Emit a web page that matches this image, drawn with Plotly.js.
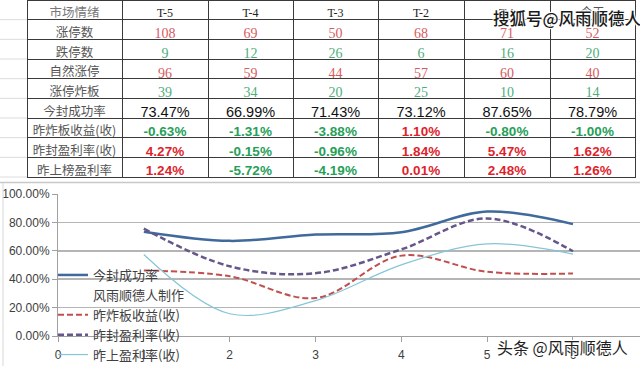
<!DOCTYPE html>
<html><head><meta charset="utf-8">
<script src="https://cdn.plot.ly/plotly-3.0.1.min.js"></script>
<style>html,body{margin:0;padding:0;background:#fff}#chart{width:640px;height:366px}</style>
</head><body><div id="chart"></div>
<script>
// ---- table data ----
const headerCols = ['T-5','T-4','T-3','T-2','T-1','今天'];
const rowLabels = ['涨停数','跌停数','自然涨停','涨停炸板','今封成功率','昨炸板收益(收)','昨封盈利率(收)','昨上榜盈利率'];
const limitUp   = [108, 69, 50, 68, 71, 52];
const limitDown = [9, 12, 26, 6, 16, 20];
const naturalUp = [96, 59, 44, 57, 60, 40];
const brokenCnt = [39, 34, 20, 25, 10, 14];
const sealRate  = [73.47, 66.99, 71.43, 73.12, 87.65, 78.79];
const brokenRet = [-0.63, -1.31, -3.88, 1.10, -0.80, -1.00];
const sealProfit= [4.27, -0.15, -0.96, 1.84, 5.47, 1.62];
const listProfit= [1.24, -5.72, -4.19, 0.01, 2.48, 1.26];

// ---- chart data (as plotted, in %) ----
const xCats = [1, 2, 3, 4, 5, 6];
const chartSeal      = [73.47, 66.99, 71.43, 73.12, 87.65, 78.79];
const chartBrokenRet = [46.2, 42.1, 26.7, 56.6, 45.2, 44.0];
const chartSealProf  = [75.6, 49.1, 44.2, 61.0, 82.8, 59.7];
const chartListProf  = [57.4, 15.7, 24.9, 50.1, 64.9, 57.6];
const seriesNames = ['今封成功率','风雨顺德人制作','昨炸板收益(收)','昨封盈利率(收)','昨上盈利率(收)'];
const xTicks = [0,1,2,3,4,5,6];
const yTicks = [0,0.2,0.4,0.6,0.8,1.0];

const W = 640, H = 366;
const RED_L = '#d65b5f', GRN_L = '#4fae7c', RED_B = '#e01f2d', GRN_B = '#26a058';
const CJK = 'Noto Sans CJK SC', SANS = 'Liberation Sans', SERIF = 'Liberation Serif';

// build table cells
const intRows = [limitUp, limitDown, naturalUp, brokenCnt];
const intColors = [RED_L, GRN_L, RED_L, GRN_L];
const pctRows = [brokenRet, sealProfit, listProfit];
const colValues = [rowLabels];
const colColors = [rowLabels.map(() => '#555555')];
const colFam = [rowLabels.map(() => CJK)];
const colSize = [rowLabels.map(() => 12.5)];
const colWeight = [rowLabels.map(() => 'normal')];
for (let c = 0; c < headerCols.length; c++) {
  const v = [], col = [], fam = [], sz = [], wt = [];
  intRows.forEach((r, i) => { v.push(String(r[c])); col.push(intColors[i]); fam.push(SERIF); sz.push(14); wt.push('normal'); });
  v.push(sealRate[c].toFixed(2) + '%'); col.push('#111111'); fam.push(SANS); sz.push(14.5); wt.push('normal');
  pctRows.forEach(r => { const x = r[c]; v.push(x.toFixed(2) + '%'); col.push(x >= 0 ? RED_B : GRN_B); fam.push(SANS); sz.push(13.5); wt.push('bold'); });
  colValues.push(v); colColors.push(col); colFam.push(fam); colSize.push(sz); colWeight.push(wt);
}
const rowH = 177 / 9;

const tableTrace = {
  type: 'table',
  domain: {x: [27 / W, 635 / W], y: [1 - 178 / H, 1]},
  columnwidth: [95, 86, 85, 85, 86, 86, 85],
  header: {
    values: ['市场情绪'].concat(headerCols),
    height: rowH,
    align: 'center',
    line: {color: '#3a3a3a', width: 1},
    fill: {color: '#ffffff'},
    font: {family: [CJK, SERIF, SERIF, SERIF, SERIF, SERIF, CJK], size: [12.5, 12, 12, 12, 12, 12, 12], color: ['#777777', '#222', '#222', '#222', '#222', '#222', '#555']}
  },
  cells: {
    values: colValues,
    height: rowH,
    align: 'center',
    line: {color: '#3a3a3a', width: 1},
    fill: {color: '#ffffff'},
    font: {family: colFam, size: colSize, color: colColors, weight: colWeight}
  }
};

const toFrac = a => a.map(v => v / 100);
const traces = [
  tableTrace,
  {type: 'scatter', mode: 'lines', name: seriesNames[0], x: xCats, y: toFrac(chartSeal),
   line: {color: '#3f6a9b', width: 2.5, shape: 'spline', smoothing: 1}},
  {type: 'scatter', mode: 'lines', name: seriesNames[1], x: [null], y: [null],
   line: {color: 'rgba(0,0,0,0)', width: 0}},
  {type: 'scatter', mode: 'lines', name: seriesNames[2], x: xCats, y: toFrac(chartBrokenRet),
   line: {color: '#c0504d', width: 2, dash: '6px,3px', shape: 'spline', smoothing: 1}},
  {type: 'scatter', mode: 'lines', name: seriesNames[3], x: xCats, y: toFrac(chartSealProf),
   line: {color: '#65578a', width: 2.5, dash: '6px,3px', shape: 'spline', smoothing: 1}},
  {type: 'scatter', mode: 'lines', name: seriesNames[4], x: xCats, y: toFrac(chartListProf),
   line: {color: '#86c5d8', width: 1.2, shape: 'spline', smoothing: 1}}
];

// faint excel sheet grid at left of table + chart border
const shapes = [];
for (let i = 1; i <= 9; i++) {
  const yy = 1 - (i * rowH) / H;
  shapes.push({type: 'line', xref: 'paper', yref: 'paper', x0: 0, x1: 27 / W, y0: yy, y1: yy, line: {color: '#dcdcdc', width: 1}});
}
shapes.push({type: 'line', xref: 'paper', yref: 'paper', x0: 0, x1: 1, y0: 1 - 182.5 / H, y1: 1 - 182.5 / H, line: {color: '#c8c8c8', width: 1.5}});
shapes.push({type: 'line', xref: 'paper', yref: 'paper', x0: 3 / W, x1: 3 / W, y0: 0, y1: 1 - 182.5 / H, line: {color: '#d8d8d8', width: 1}});

const wmShadow = '1px 1px 1px #fff, -1px -1px 1px #fff, 1px -1px 1px #fff, -1px 1px 1px #fff';
const layout = {
  width: W, height: H,
  margin: {l: 0, r: 0, t: 0, b: 0, autoexpand: false},
  paper_bgcolor: '#ffffff', plot_bgcolor: '#ffffff',
  showlegend: true,
  legend: {x: 53 / W, xanchor: 'left', y: 1 - 260 / H, yanchor: 'top', bgcolor: 'rgba(0,0,0,0)',
           font: {family: CJK, size: 13, color: '#404040'}, tracegroupgap: 0},
  xaxis: {domain: [58 / W, 1], range: [0, 582 / 85.83], tickvals: xTicks, ticktext: xTicks.map(String),
          showgrid: false, zeroline: false, showline: true, linecolor: '#a0a0a0', linewidth: 1,
          ticks: 'outside', ticklen: 5, tickcolor: '#a0a0a0', ticklabelstandoff: 3,
          tickfont: {family: SANS, size: 12, color: '#404040'}, fixedrange: true},
  yaxis: {domain: [1 - 336 / H, 1 - 194 / H], range: [0, 1], tickvals: yTicks, tickformat: '.2%',
          showgrid: true, gridcolor: '#b5b5b5', gridwidth: 1.5, zeroline: false,
          showline: true, linecolor: '#a0a0a0', linewidth: 1, ticks: 'outside', ticklen: 5, tickcolor: '#a0a0a0',
          tickfont: {family: SANS, size: 12, color: '#404040'}, fixedrange: true},
  shapes: shapes,
  annotations: [
    {xref: 'paper', yref: 'paper', x: 567 / W, y: 1 - 18 / H, xanchor: 'center', yanchor: 'middle',
     text: '搜狐号@风雨顺德人', showarrow: false,
     font: {family: CJK, size: 16.5, color: '#1a1a1a', weight: 500, shadow: wmShadow}},
    {xref: 'paper', yref: 'paper', x: 562 / W, y: 1 - 347 / H, xanchor: 'center', yanchor: 'middle',
     text: '头条 @风雨顺德人', showarrow: false,
     font: {family: CJK, size: 16, color: '#1e1e1e', shadow: wmShadow}}
  ]
};

Plotly.newPlot('chart', traces, layout, {displayModeBar: false, staticPlot: true});
</script></body></html>
